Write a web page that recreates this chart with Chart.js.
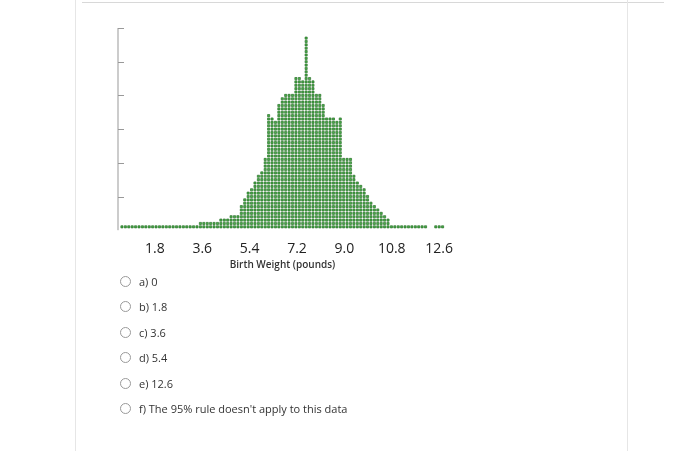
<!DOCTYPE html>
<html><head><meta charset="utf-8">
<script src="https://cdn.jsdelivr.net/npm/chart.js@4"></script>
<style>
body{margin:0;background:#fff;font-family:"Open Sans",sans-serif;}
#wrap{position:relative;width:700px;height:451px;overflow:hidden;}
.ln{position:absolute;background:#d8d8d8;}
canvas{position:absolute;left:0;top:0;}
.opt{position:absolute;left:120px;font-size:11px;color:#333;display:flex;align-items:center;}
.opt span.c{width:9px;height:9px;border:1px solid #999;border-radius:50%;display:inline-block;margin-right:8px;background:#fff;}
</style></head><body>
<div id="wrap">
<div class="ln" style="left:82px;top:2px;width:582px;height:1px;"></div>
<div class="ln" style="left:75px;top:0;width:1px;height:451px;background:#e6e6e6"></div>
<div class="ln" style="left:627px;top:0;width:1px;height:451px;background:#e6e6e6"></div>
<canvas id="c" width="700" height="451"></canvas>
<div id="opts"></div>
</div>
<script>
const xTicks=[1.8,3.6,5.4,7.2,9.0,10.8,12.6];
const colStart=0.55, colStep=0.1296;
const colHeights=[1,1,1,1,1,1,1,1,1,1,1,1,1,1,1,1,1,1,1,1,1,1,1,
2,2,2,2,2,2,3,3,3,4,4,4,
7,9,11,12,14,16,17,21,34,33,32,37,39,40,40,40,45,45,44,57,45,44,40,40,37,33,33,33,32,33,21,21,21,16,14,13,12,10,8,7,6,5,4,3,
1,1,1,1,1,1,1,1,1,1,1,0,0,1,1,1];
const options=["a) 0","b) 1.8","c) 3.6","d) 5.4","e) 12.6","f) The 95% rule doesn't apply to this data"];

const pts=[];
colHeights.forEach((h,i)=>{for(let r=1;r<=h;r++)pts.push({x:colStart+i*colStep,y:r});});

const tickPlugin={id:'yt',afterDraw(ch){const y=ch.scales.y,ctx=ch.ctx;const x0=ch.chartArea.left;
ctx.save();ctx.strokeStyle='#999';ctx.lineWidth=1;
ctx.beginPath();ctx.moveTo(x0,y.getPixelForValue(60));ctx.lineTo(x0,y.getPixelForValue(0));ctx.stroke();
for(let v=10;v<=60;v+=10){const p=Math.round(y.getPixelForValue(v))+0.5;ctx.beginPath();ctx.moveTo(x0,p);ctx.lineTo(x0+6,p);ctx.stroke();}
ctx.restore();}};

new Chart(document.getElementById('c'),{type:'scatter',
data:{datasets:[{data:pts,pointStyle:'rect',pointRadius:1.5,backgroundColor:'#47b547',borderColor:'#2b6f2b',borderWidth:0.7}]},
options:{responsive:false,animation:false,events:[],
layout:{padding:{left:118,right:253,top:28,bottom:176}},
plugins:{legend:{display:false},tooltip:{enabled:false}},
scales:{
x:{type:'linear',min:0.4,max:12.9,afterBuildTicks:s=>{s.ticks=xTicks.map(v=>({value:v}));},
grid:{display:false},border:{display:false},
ticks:{color:'#222',font:{size:14,family:'Open Sans'},padding:2,callback:v=>v.toFixed(1)},
title:{display:true,text:'Birth Weight (pounds)',color:'#333',font:{size:10,family:'Open Sans',weight:'600'},padding:{top:0}}},
y:{min:0,max:60,display:true,afterFit:s=>{s.width=0;},grid:{display:false},border:{display:false},ticks:{display:false}}}},
plugins:[tickPlugin]});

const o=document.getElementById('opts');
options.forEach((t,i)=>{const d=document.createElement('div');d.className='opt';d.style.top=(274+i*25.4)+'px';
d.innerHTML='<span class="c"></span>'+t;o.appendChild(d);});
</script>
</body></html>
